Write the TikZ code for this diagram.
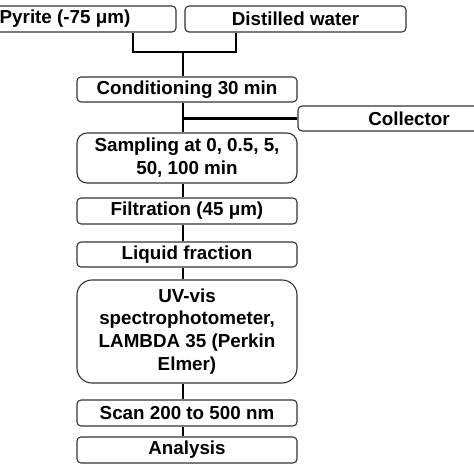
\documentclass[tikz,border=0pt]{standalone}
\usepackage{fontspec}
\setmainfont{Liberation Sans}
\begin{document}
\begin{tikzpicture}[x=1pt,y=-1pt,
  box/.style={draw=black!80, line width=1.1pt, rounded corners=4pt, inner sep=0pt,
    align=center, font=\fontsize{18.8}{22.8}\selectfont\bfseries},
  conn/.style={line width=2.1pt, black}]
\useasboundingbox (0,0) rectangle (474,474);
\clip (0,0) rectangle (474,474);
\node[box, minimum width=222pt, minimum height=26pt] (pyr) at (65,19) {Pyrite (-75 μm)};
\node[box, minimum width=221pt, minimum height=26pt] (dw) at (295.5,19) {Distilled water};
\node[box, minimum width=220pt, minimum height=25pt] (cond) at (187,89.5) {Conditioning 30 min};
\node[box, minimum width=222pt, minimum height=25pt] (coll) at (409,118.5) {Collector};
\node[box, rounded corners=10pt, minimum width=220pt, minimum height=50pt] (samp) at (187,158) {Sampling at 0, 0.5, 5,\\50, 100 min};
\node[box, minimum width=220pt, minimum height=26pt] (filt) at (187,211) {Filtration (45 μm)};
\node[box, minimum width=220pt, minimum height=25pt] (liq) at (187,254.5) {Liquid fraction};
\node[box, rounded corners=15pt, minimum width=220pt, minimum height=103pt] (uv) at (187,331.5) {UV-vis\\spectrophotometer,\\LAMBDA 35 (Perkin\\Elmer)};
\node[box, minimum width=220pt, minimum height=26pt] (scan) at (187,413) {Scan 200 to 500 nm};
\node[box, minimum width=220pt, minimum height=26pt] (ana) at (187,450) {Analysis};
\coordinate (ja) at (133,52);
\coordinate (jb) at (236,52);
\coordinate (jm) at (183,52);
\draw[conn] (ja|-pyr.south) -- (ja) -- (jb) -- (jb|-dw.south);
\draw[conn] (jm) -- (jm|-cond.north);
\draw[conn] (jm|-cond.south) -- (jm|-samp.north);
\draw[conn] (jm|-coll.west) -- (coll.west);
\draw[conn] (jm|-samp.south) -- (jm|-filt.north);
\draw[conn] (jm|-filt.south) -- (jm|-liq.north);
\draw[conn] (jm|-liq.south) -- (jm|-uv.north);
\draw[conn] (jm|-uv.south) -- (jm|-scan.north);
\draw[conn] (jm|-scan.south) -- (jm|-ana.north);
\end{tikzpicture}
\end{document}
